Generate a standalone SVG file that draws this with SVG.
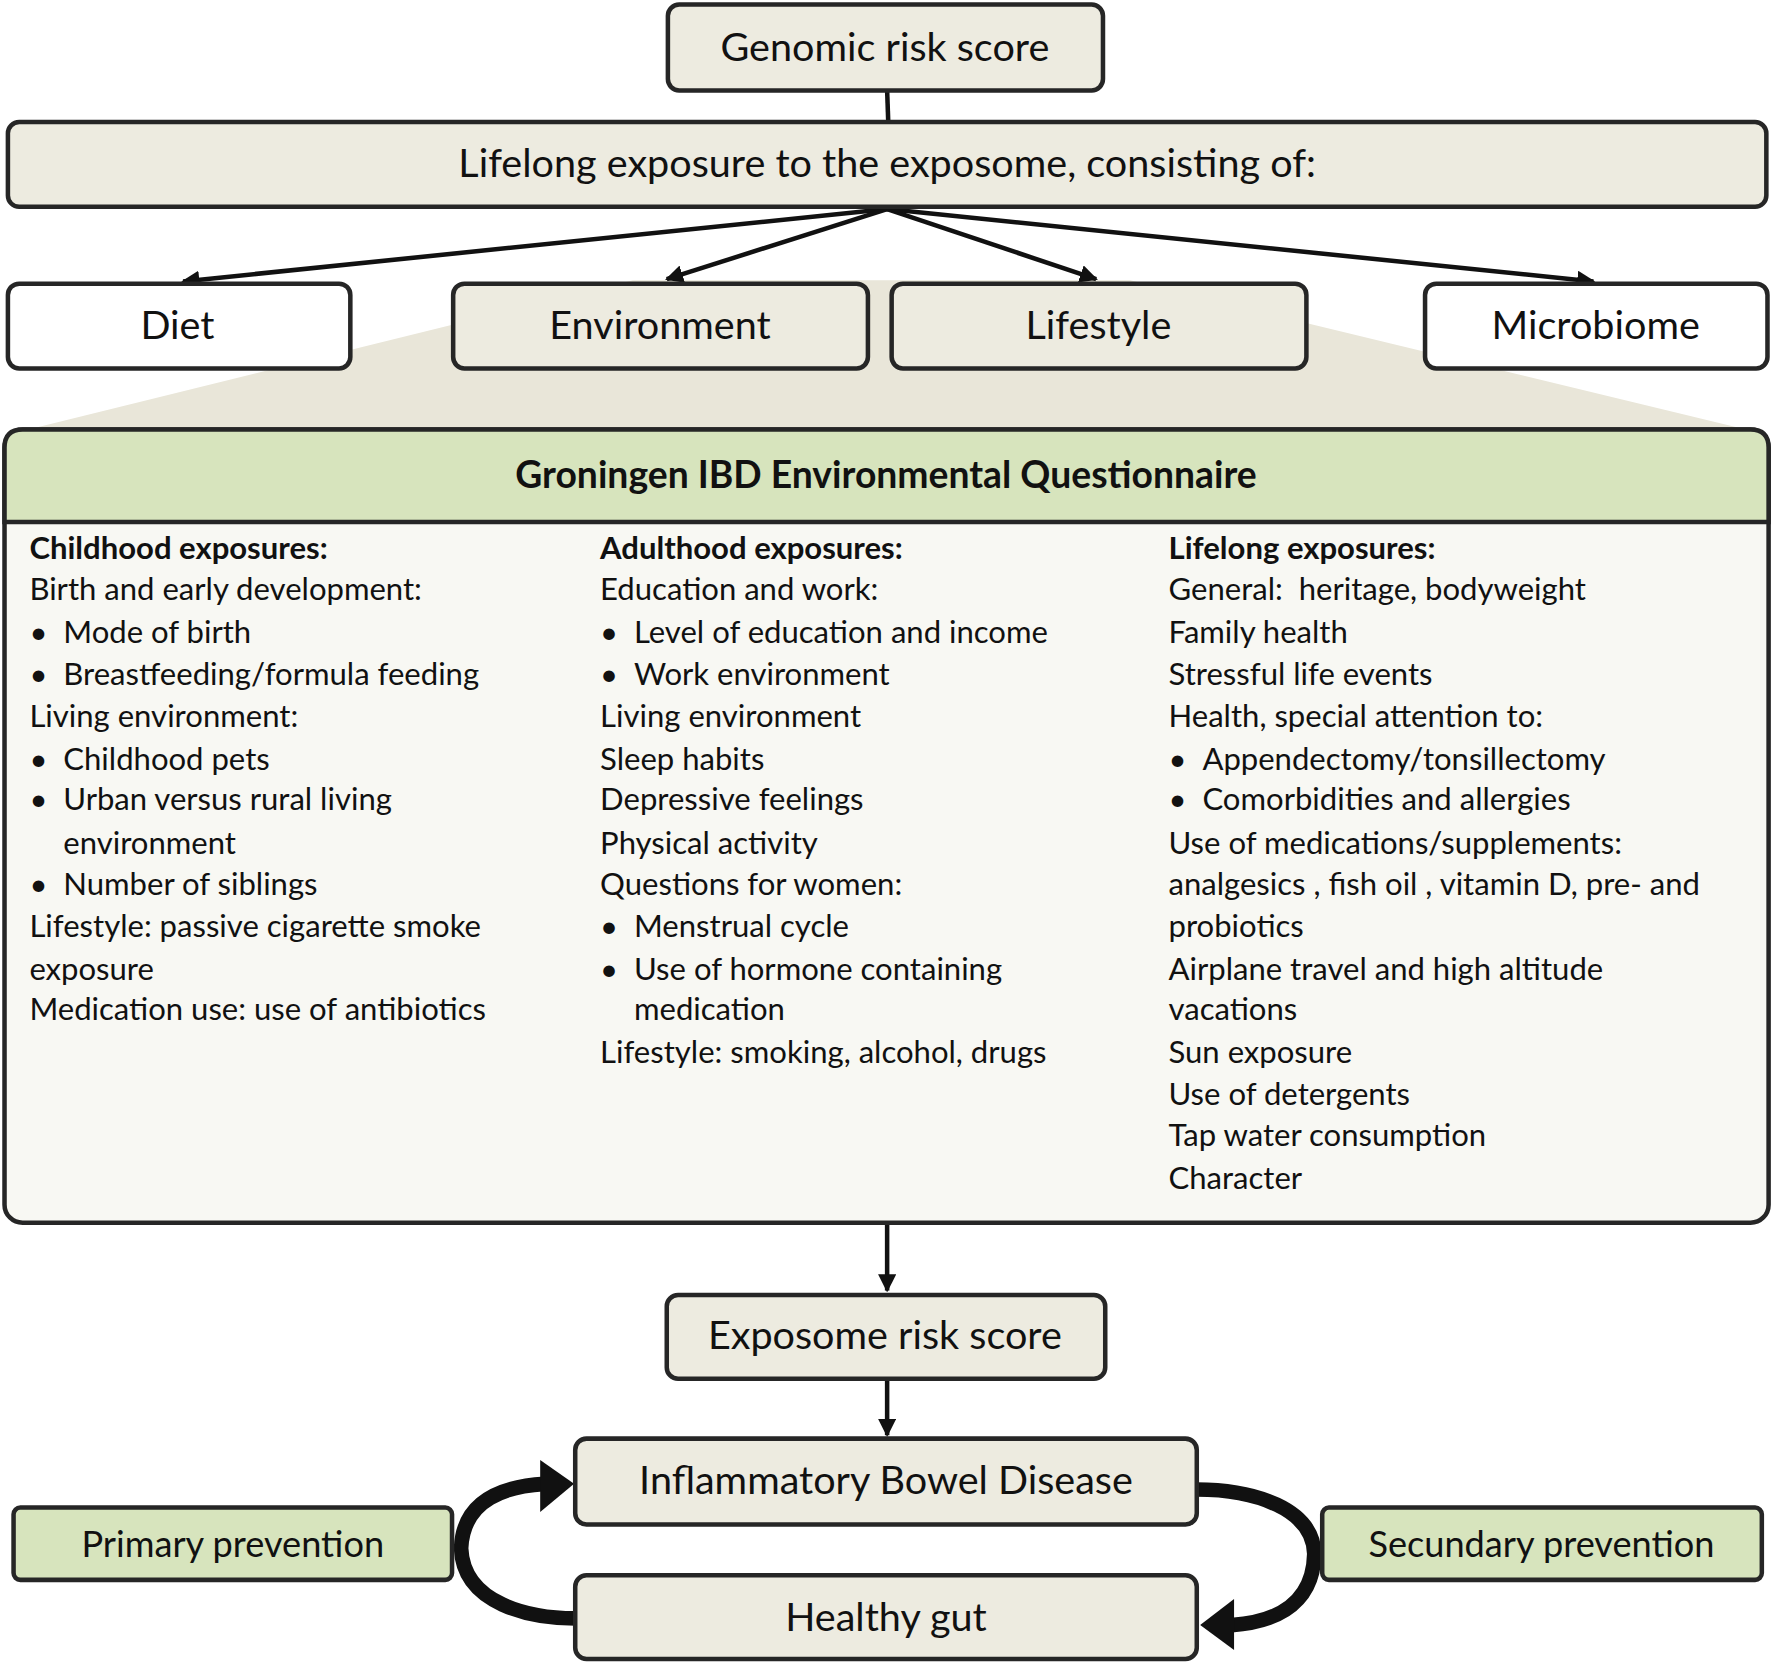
<svg xmlns="http://www.w3.org/2000/svg" width="1772" height="1665" viewBox="0 0 1772 1665">
<style>
.b{stroke:#262626;stroke-width:4;}
.beige{fill:#edebe0;}
.white{fill:#ffffff;}
.green{fill:#d7e4bd;}
text{font-family:Lato,"Open Sans","Liberation Sans",sans-serif;fill:#111;}
.h{font-size:35px;text-anchor:middle;}
.t{font-size:27.5px;}
.tb{font-size:27.5px;font-weight:bold;}
.c{stroke:#111;stroke-width:4;fill:none;}
</style>
<defs>
<marker id="ah" viewBox="0 0 10 10" refX="9" refY="5" markerWidth="4" markerHeight="4" orient="auto"><path d="M0,0L10,5L0,10z" fill="#111"/></marker>
</defs>
<rect width="1772" height="1665" fill="#fff"/>
<g transform="scale(1.1301)">
<polygon points="560,248 1000,248 1545,380 25,380" fill="#e9e6d9"/>
<g id="connectors">
<line class="c" x1="785" y1="80" x2="786" y2="108"/>
<line class="c" x1="785" y1="185" x2="162" y2="249" marker-end="url(#ah)"/>
<line class="c" x1="785" y1="185" x2="590" y2="247" marker-end="url(#ah)"/>
<line class="c" x1="785" y1="185" x2="970" y2="247" marker-end="url(#ah)"/>
<line class="c" x1="785" y1="185" x2="1410" y2="249" marker-end="url(#ah)"/>
<line class="c" x1="785" y1="1083" x2="785" y2="1142" marker-end="url(#ah)"/>
<line class="c" x1="785" y1="1221" x2="785" y2="1270" marker-end="url(#ah)"/>
<path d="M509,1432 C470,1432 410,1420 408,1370 C410,1325 450,1315 482,1313" fill="none" stroke="#111" stroke-width="13"/>
<polygon points="478,1292 508,1313 478,1338" fill="#111"/>
<path d="M1059,1318 C1110,1318 1162,1335 1163,1375 C1162,1425 1120,1436 1090,1438" fill="none" stroke="#111" stroke-width="13"/>
<polygon points="1092,1415 1062,1438 1092,1460" fill="#111"/>
</g>
<g id="genomic"><rect class="b beige" x="591" y="4" width="385" height="76" rx="10"/><text class="h" x="783" y="54">Genomic risk score</text></g>
<g id="lifelong"><rect class="b beige" x="7" y="108" width="1556" height="75" rx="10"/><text class="h" x="785" y="157">Lifelong exposure to the exposome, consisting of:</text></g>
<g id="diet"><rect class="b white" x="7" y="251" width="303" height="75" rx="10"/><text class="h" x="157" y="300">Diet</text></g>
<g id="environment"><rect class="b beige" x="401" y="251" width="367" height="75" rx="10"/><text class="h" x="584" y="300">Environment</text></g>
<g id="lifestyle"><rect class="b beige" x="789" y="251" width="367" height="75" rx="10"/><text class="h" x="972" y="300">Lifestyle</text></g>
<g id="microbiome"><rect class="b white" x="1261" y="251" width="303" height="75" rx="10"/><text class="h" x="1412" y="300">Microbiome</text></g>
<g id="questionnaire">
<rect class="b" x="4" y="380" width="1561" height="702" rx="16" fill="#f8f8f3"/>
<path class="b green" d="M4,462 L4,396 Q4,380 20,380 L1549,380 Q1565,380 1565,396 L1565,462 Z"/>
<text class="h" x="784" y="432" style="font-size:33px" font-weight="bold">Groningen IBD Environmental Questionnaire</text>
<text class="tb" x="26" y="495">Childhood exposures:</text>
<text class="t" x="26" y="531">Birth and early development:</text>
<text class="t" x="26" y="569">•</text><text class="t" x="56" y="569">Mode of birth</text>
<text class="t" x="26" y="606">•</text><text class="t" x="56" y="606">Breastfeeding/formula feeding</text>
<text class="t" x="26" y="643">Living environment:</text>
<text class="t" x="26" y="681">•</text><text class="t" x="56" y="681">Childhood pets</text>
<text class="t" x="26" y="717">•</text><text class="t" x="56" y="717">Urban versus rural living</text>
<text class="t" x="56" y="756">environment</text>
<text class="t" x="26" y="792">•</text><text class="t" x="56" y="792">Number of siblings</text>
<text class="t" x="26" y="829">Lifestyle: passive cigarette smoke</text>
<text class="t" x="26" y="867">exposure</text>
<text class="t" x="26" y="903">Medication use: use of antibiotics</text>
<text class="tb" x="531" y="495">Adulthood exposures:</text>
<text class="t" x="531" y="531">Education and work:</text>
<text class="t" x="531" y="569">•</text><text class="t" x="561" y="569">Level of education and income</text>
<text class="t" x="531" y="606">•</text><text class="t" x="561" y="606">Work environment</text>
<text class="t" x="531" y="643">Living environment</text>
<text class="t" x="531" y="681">Sleep habits</text>
<text class="t" x="531" y="717">Depressive feelings</text>
<text class="t" x="531" y="756">Physical activity</text>
<text class="t" x="531" y="792">Questions for women:</text>
<text class="t" x="531" y="829">•</text><text class="t" x="561" y="829">Menstrual cycle</text>
<text class="t" x="531" y="867">•</text><text class="t" x="561" y="867">Use of hormone containing</text>
<text class="t" x="561" y="903">medication</text>
<text class="t" x="531" y="941">Lifestyle: smoking, alcohol, drugs</text>
<text class="tb" x="1034" y="495">Lifelong exposures:</text>
<text class="t" x="1034" y="531" xml:space="preserve">General:  heritage, bodyweight</text>
<text class="t" x="1034" y="569">Family health</text>
<text class="t" x="1034" y="606">Stressful life events</text>
<text class="t" x="1034" y="643">Health, special attention to:</text>
<text class="t" x="1034" y="681">•</text><text class="t" x="1064" y="681">Appendectomy/tonsillectomy</text>
<text class="t" x="1034" y="717">•</text><text class="t" x="1064" y="717">Comorbidities and allergies</text>
<text class="t" x="1034" y="756">Use of medications/supplements:</text>
<text class="t" x="1034" y="792">analgesics , fish oil , vitamin D, pre- and</text>
<text class="t" x="1034" y="829">probiotics</text>
<text class="t" x="1034" y="867">Airplane travel and high altitude</text>
<text class="t" x="1034" y="903">vacations</text>
<text class="t" x="1034" y="941">Sun exposure</text>
<text class="t" x="1034" y="978">Use of detergents</text>
<text class="t" x="1034" y="1014">Tap water consumption</text>
<text class="t" x="1034" y="1052">Character</text>
</g>
<g id="exposome"><rect class="b beige" x="590" y="1146" width="388" height="74" rx="10"/><text class="h" x="783" y="1194">Exposome risk score</text></g>
<g id="ibd"><rect class="b beige" x="509" y="1273" width="550" height="76" rx="10"/><text class="h" x="784" y="1322">Inflammatory Bowel Disease</text></g>
<g id="healthy"><rect class="b beige" x="509" y="1394" width="550" height="74" rx="10"/><text class="h" x="784" y="1443">Healthy gut</text></g>
<g id="primary"><rect class="b green" x="12" y="1334" width="388" height="64" rx="6"/><text class="h" x="206" y="1378" style="font-size:32px">Primary prevention</text></g>
<g id="secundary"><rect class="b green" x="1170" y="1334" width="389" height="64" rx="6"/><text class="h" x="1364" y="1378" style="font-size:32px">Secundary prevention</text></g>
</g>
</svg>
